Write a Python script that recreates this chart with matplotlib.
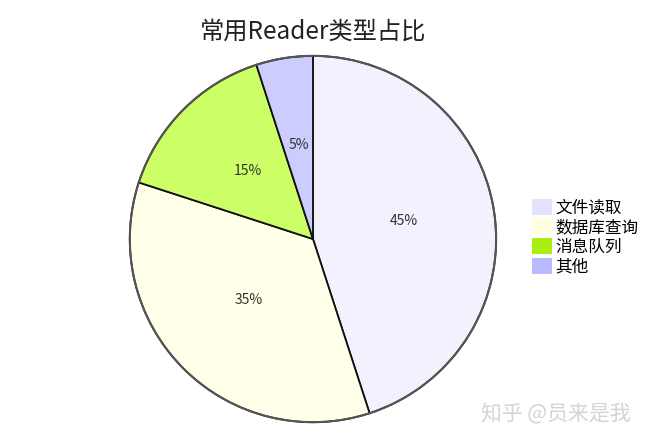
import matplotlib.pyplot as plt
from matplotlib.patches import Patch

plt.rcParams['font.family'] = ['Noto Sans CJK SC', 'DejaVu Sans']

labels = ['文件读取', '数据库查询', '消息队列', '其他']
values = [45, 35, 15, 5]
fill_colors = ['#f2f2ff', '#ffffea', '#ccff66', '#ccccff']
legend_colors = ['#e3e3fb', '#ffffe0', '#aaee11', '#babaff']

fig = plt.figure(figsize=(6.58, 4.44), dpi=100)
ax = fig.add_axes([0.1945, 0.0450, 0.5623, 0.8333])

wedges, texts = ax.pie(values, colors=fill_colors, startangle=90, counterclock=False,
                       labels=[f'{v}%' for v in values], labeldistance=0.5,
                       wedgeprops=dict(edgecolor='#111111', linewidth=1.3),
                       textprops=dict(fontsize=10, color='#333333'))
for t in texts:
    t.set_ha('center')
    t.set_va('center')
    x, y = t.get_position()
    t.set_position((x, y + 0.02))
# outer ring in dark grey
circle = plt.Circle((0, 0), 1, fill=False, edgecolor='#555555', linewidth=1.5)
ax.add_patch(circle)
ax.set_xlim(-1.01, 1.01)
ax.set_ylim(-1.01, 1.01)
ax.set_aspect('equal')
ax.axis('off')

fig.text(313 / 658, 1 - 32 / 444, '常用Reader类型占比', ha='center', va='center',
         fontsize=17.5, color='#222222')

handles = [Patch(facecolor=c, edgecolor='none') for c in legend_colors]
fig.legend(handles, labels, loc='center left', bbox_to_anchor=(524 / 658, 1 - 237 / 444),
           frameon=False, fontsize=12, handlelength=1.15, handleheight=1.1,
           handletextpad=0.25, labelspacing=0.12, borderpad=0)

fig.text(556 / 658, 1 - 413 / 444, '知乎 @员来是我', ha='center', va='center',
         fontsize=15, color='#d4d4d4')

fig.savefig('out.png', dpi=100)
